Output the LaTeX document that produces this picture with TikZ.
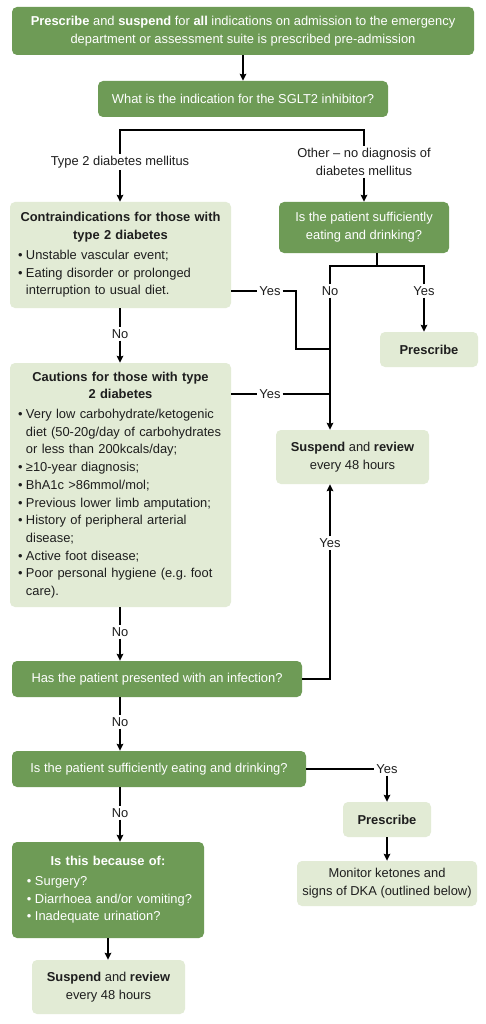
\documentclass[tikz,border=0pt]{standalone}
\usepackage{fontspec}
\setmainfont{Liberation Sans}
\usetikzlibrary{arrows.meta}
\definecolor{dg}{HTML}{6E9B56}
\definecolor{lg}{HTML}{E2EBD5}
\definecolor{tx}{HTML}{1E1E1E}
\newcommand{\fs}{\fontsize{12.9}{17.7}\selectfont}
\newcommand{\bl}{\makebox[0.62em][l]{•}}
\newcommand{\ci}{\hspace*{0.62em}}
\frenchspacing
\begin{document}
\begin{tikzpicture}[x=1pt,y=-1pt,
 box/.style={rounded corners=5pt, inner sep=0pt, font=\fs, align=center},
 dark/.style={box, fill=dg, text=white},
 light/.style={box, fill=lg, text=tx},
 lbl/.style={font=\fs, inner sep=2pt, text=tx},
 ln/.style={line width=1.9pt, draw=black},
 arr/.style={ln, -{Stealth[length=7pt,width=6.5pt,inset=1pt]}}]
\fill[white] (0,0) rectangle (486,1024);
\useasboundingbox (0,0) rectangle (486,1024);

% boxes
\node[dark, minimum width=462pt, minimum height=48pt] (top) at (243,31)
 {\textbf{Prescribe} and \textbf{suspend} for \textbf{all} indications on admission to the emergency\\department or assessment suite is prescribed pre-admission};
\node[dark, minimum width=290pt, minimum height=36pt] (q1) at (243,99)
 {What is the indication for the SGLT2 inhibitor?};
\node[light, text width=205pt, align=left, minimum width=221pt, minimum height=106pt] (contra) at (120.5,255)
 {{\centering\textbf{Contraindications for those with\\type 2 diabetes}\par}\vspace{2pt}
 \bl Unstable vascular event;\\
 \bl Eating disorder or prolonged\\
 \ci interruption to usual diet.};
\node[dark, minimum width=170pt, minimum height=51pt] (eat1) at (364,227.5)
 {Is the patient sufficiently\\eating and drinking?};
\node[light, minimum width=98pt, minimum height=35pt] (pr1) at (429,349.5) {\textbf{Prescribe}};
\node[light, text width=205pt, align=left, minimum width=221pt, minimum height=244pt] (caut) at (120.5,485)
 {{\centering\textbf{Cautions for those with type\\2 diabetes}\par}\vspace{2pt}
 \bl \mbox{Very low carbohydrate/ketogenic}\\
 \ci \mbox{diet (50-20g/day of carbohydrates}\\
 \ci or less than 200kcals/day;\\
 \bl ≥10-year diagnosis;\\
 \bl BhA1c >86mmol/mol;\\
 \bl \mbox{Previous lower limb amputation;}\\
 \bl History of peripheral arterial\\
 \ci disease;\\
 \bl Active foot disease;\\
 \bl \mbox{Poor personal hygiene (e.g.\ foot}\\
 \ci care).};
\node[light, minimum width=153pt, minimum height=54pt] (sus1) at (352.5,457)
 {\textbf{Suspend} and \textbf{review}\\every 48 hours};
\node[dark, minimum width=290pt, minimum height=36pt] (inf) at (157,679)
 {Has the patient presented with an infection?};
\node[dark, minimum width=294pt, minimum height=36pt] (eat2) at (159,769)
 {Is the patient sufficiently eating and drinking?};
\node[light, minimum width=88pt, minimum height=35pt] (pr2) at (387,819.5) {\textbf{Prescribe}};
\node[light, minimum width=180pt, minimum height=45pt] (mon) at (387,883.5)
 {Monitor ketones and\\signs of DKA (outlined below)};
\node[dark, text width=162pt, align=left, minimum width=192pt, minimum height=96pt] (why) at (108,890)
 {{\centering\textbf{Is this because of:}\par}\vspace{2pt}
 \bl \mbox{Surgery?}\\
 \bl \mbox{Diarrhoea and/or vomiting?}\\
 \bl \mbox{Inadequate urination?}};
\node[light, minimum width=153pt, minimum height=54pt] (sus2) at (108.5,987)
 {\textbf{Suspend} and \textbf{review}\\every 48 hours};

% labels
\node[lbl] (t2) at (120,162) {Type 2 diabetes mellitus};
\node[lbl, align=center] (oth) at (364,162) {Other – no diagnosis of\\diabetes mellitus};
\node[lbl] (no1) at (330,291) {No};
\node[lbl] (yes1) at (424,291) {Yes};
\node[lbl] (yes2) at (270,291) {Yes};
\node[lbl] (no2) at (120,334) {No};
\node[lbl] (yes3) at (270,394) {Yes};
\node[lbl] (yes4) at (330,543) {Yes};
\node[lbl] (no3) at (120,632) {No};
\node[lbl] (no4) at (120,722) {No};
\node[lbl] (yes5) at (387,769) {Yes};
\node[lbl] (no5) at (120,813) {No};

% coordinates
\coordinate (bl) at (120,130);
\coordinate (br) at (364,130);
\coordinate (sp) at (377,266);
\coordinate (k1) at (296,349);
\coordinate (j1) at (330,349);

% connectors
\draw[arr] (top) -- (q1);
\draw[ln] (t2.north) -- (bl) -- (br) -- (oth.north);
\draw[arr] (t2.south) -- (contra.north -| t2);
\draw[arr] (oth.south) -- (eat1.north -| oth);
\draw[ln] (sp |- eat1.south) -- (sp);
\draw[ln] (no1.north) |- (sp);
\draw[ln] (yes1.north) |- (sp);
\draw[arr] (yes1.south) -- (pr1.north -| yes1);
\draw[arr] (no1.south) -- (sus1.north -| no1);
\draw[ln] (contra.east |- yes2) -- (yes2.west);
\draw[ln] (yes2.east) -| (k1) -- (j1);
\draw[ln] (contra.south -| no2) -- (no2.north);
\draw[arr] (no2.south) -- (caut.north -| no2);
\draw[ln] (caut.east |- yes3) -- (yes3.west);
\draw[ln] (yes3.east) -- (yes3 -| no1);
\draw[ln] (inf.east) -| (yes4.south);
\draw[arr] (yes4.north) -- (sus1.south -| yes4);
\draw[ln] (caut.south -| no3) -- (no3.north);
\draw[arr] (no3.south) -- (inf.north -| no3);
\draw[ln] (inf.south -| no4) -- (no4.north);
\draw[arr] (no4.south) -- (eat2.north -| no4);
\draw[ln] (eat2.east) -- (eat2.east -| yes5.west);
\draw[arr] (yes5.south) -- (pr2.north -| yes5);
\draw[arr] (pr2.south) -- (mon.north -| pr2);
\draw[ln] (eat2.south -| no5) -- (no5.north);
\draw[arr] (no5.south) -- (why.north -| no5);
\draw[arr] (why.south) -- (sus2.north -| why);
\end{tikzpicture}
\end{document}
